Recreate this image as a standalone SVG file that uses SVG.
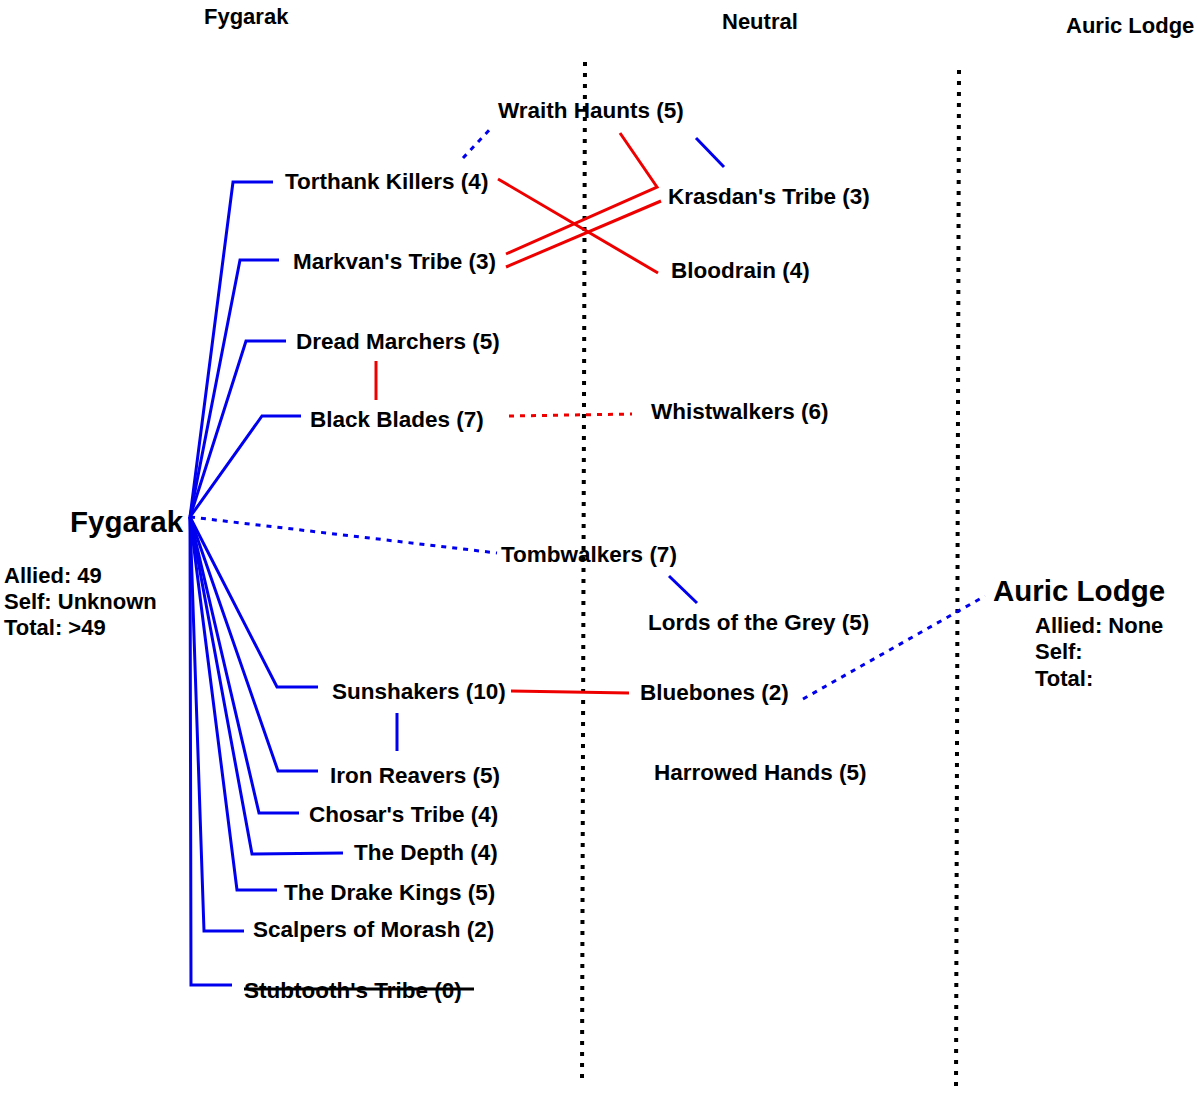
<svg xmlns="http://www.w3.org/2000/svg" width="1200" height="1094" viewBox="0 0 1200 1094">
<style>
text{font-family:"Liberation Sans",Arial,sans-serif;font-weight:bold;font-size:22.5px;fill:#000}
.big{font-size:29.5px}
.hd{font-size:22px}
.ln{fill:none;stroke-width:3}
.b{stroke:#0000ee}
.r{stroke:#ee0000}
.k{stroke:#000}
.dot{stroke-dasharray:5,6}
.div{fill:none;stroke:#000;stroke-width:4;stroke-dasharray:4,7}
</style>
<rect width="1200" height="1094" fill="#fff"/>
<g id="headings">
<text class="hd" x="204" y="24">Fygarak</text>
<text class="hd" x="722" y="29">Neutral</text>
<text class="hd" x="1066" y="33">Auric Lodge</text>
</g>
<g id="dividers">
<line class="div" x1="585" y1="62" x2="582" y2="1082"/>
<line class="div" x1="959" y1="70" x2="956" y2="1090"/>
</g>
<g id="connectors">
<polyline class="ln b" points="190,517 233,182 273,182"/>
<polyline class="ln b" points="190,517 240,260 279,260"/>
<polyline class="ln b" points="190,517 246,341 286,341"/>
<polyline class="ln b" points="190,517 262,416 301,416"/>
<polyline class="ln b" points="190,517 277,687 318,687"/>
<polyline class="ln b" points="190,517 278,771 318,771"/>
<polyline class="ln b" points="190,517 259,813 299,813"/>
<polyline class="ln b" points="190,517 252,854 343,853"/>
<polyline class="ln b" points="190,517 237,890 277,890"/>
<polyline class="ln b" points="190,517 204,931 244,931"/>
<polyline class="ln b" points="190,517 191,985 232,985"/>
<line class="ln b dot" x1="190" y1="517" x2="497" y2="553"/>
<line class="ln b dot" x1="463" y1="158" x2="493" y2="126"/>
<line class="ln b" x1="696" y1="138" x2="724" y2="167"/>
<polyline class="ln r" points="620,133 657,187 506,254"/>
<line class="ln r" x1="661" y1="201" x2="506" y2="267"/>
<line class="ln r" x1="498" y1="179" x2="658" y2="273"/>
<line class="ln r" x1="376" y1="361" x2="376" y2="400"/>
<line class="ln r dot" x1="509" y1="416" x2="632" y2="414"/>
<line class="ln r" x1="511" y1="691" x2="629" y2="693"/>
<line class="ln b dot" x1="803" y1="699" x2="985" y2="596"/>
<line class="ln b" x1="669" y1="576" x2="697" y2="603"/>
<line class="ln b" x1="397" y1="713" x2="397" y2="751"/>
</g>
<g id="fygarak">
<text class="big" x="70" y="532">Fygarak</text>
<text class="hd" x="4" y="583">Allied: 49</text>
<text class="hd" x="4" y="609">Self: Unknown</text>
<text class="hd" x="4" y="635">Total: &gt;49</text>
</g>
<g id="auric-lodge">
<text class="big" x="993" y="601">Auric Lodge</text>
<text class="hd" x="1035" y="633">Allied: None</text>
<text class="hd" x="1035" y="659">Self:</text>
<text class="hd" x="1035" y="686">Total:</text>
</g>
<g id="wraith-haunts"><text x="498" y="118">Wraith Haunts (5)</text></g>
<g id="torthank-killers"><text x="285" y="189">Torthank Killers (4)</text></g>
<g id="krasdans-tribe"><text x="668" y="204">Krasdan's Tribe (3)</text></g>
<g id="markvans-tribe"><text x="293" y="269">Markvan's Tribe (3)</text></g>
<g id="bloodrain"><text x="671" y="278">Bloodrain (4)</text></g>
<g id="dread-marchers"><text x="296" y="349">Dread Marchers (5)</text></g>
<g id="black-blades"><text x="310" y="427">Black Blades (7)</text></g>
<g id="whistwalkers"><text x="651" y="419">Whistwalkers (6)</text></g>
<g id="tombwalkers"><text x="501" y="562">Tombwalkers (7)</text></g>
<g id="lords-of-the-grey"><text x="648" y="630">Lords of the Grey (5)</text></g>
<g id="sunshakers"><text x="332" y="699">Sunshakers (10)</text></g>
<g id="bluebones"><text x="640" y="700">Bluebones (2)</text></g>
<g id="iron-reavers"><text x="330" y="783">Iron Reavers (5)</text></g>
<g id="harrowed-hands"><text x="654" y="780">Harrowed Hands (5)</text></g>
<g id="chosars-tribe"><text x="309" y="822">Chosar's Tribe (4)</text></g>
<g id="the-depth"><text x="354" y="860">The Depth (4)</text></g>
<g id="the-drake-kings"><text x="284" y="900">The Drake Kings (5)</text></g>
<g id="scalpers-of-morash"><text x="253" y="937">Scalpers of Morash (2)</text></g>
<g id="stubtooths-tribe"><text x="244" y="998">Stubtooth's Tribe (0)</text>
<line class="ln k" x1="244" y1="989" x2="474" y2="989"/></g>
</svg>
